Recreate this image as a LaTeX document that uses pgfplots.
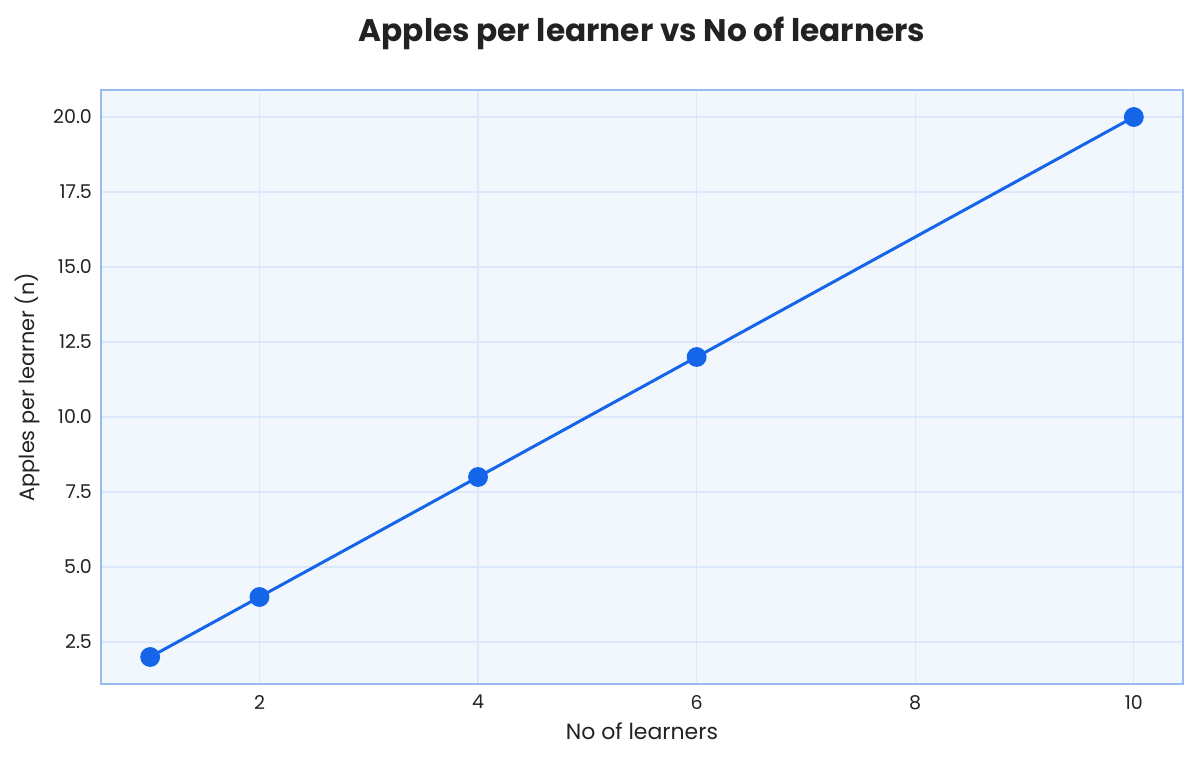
\documentclass[border=0pt]{standalone}
\usepackage{fontspec}
\setmainfont{Poppins}
\usepackage{pgfplots}
\pgfplotsset{compat=1.18}
\definecolor{linec}{RGB}{21,101,232}
\definecolor{framec}{RGB}{154,186,242}
\definecolor{bgc}{RGB}{242,247,254}
\definecolor{gridc}{RGB}{222,232,251}
\definecolor{textc}{RGB}{34,34,34}
\begin{document}
\begin{tikzpicture}
\path[use as bounding box] (-50.5pt,-38.5pt) rectangle (549.5pt,342pt);
\begin{axis}[
  at={(0,0)}, anchor=south west,
  width=541pt, height=297pt, scale only axis,
  xmin=0.55, xmax=10.45, ymin=1.1, ymax=20.9,
  xtick={2,4,6,8,10}, ytick={2.5,5,7.5,10,12.5,15,17.5,20},
  yticklabel style={/pgf/number format/fixed, /pgf/number format/fixed zerofill, /pgf/number format/precision=1, xshift=-1pt},
  /pgf/number format/assume math mode=true,
  major tick length=0pt,
  axis background/.style={fill=bgc},
  axis line style={framec, line width=1.2pt},
  grid=major, major grid style={gridc, line width=0.6pt},
  tick label style={font=\fontsize{9.5}{11}\selectfont, text=textc},
  xticklabel style={yshift=-2pt},
  label style={font=\fontsize{11}{13}\selectfont, text=textc},
  ylabel style={font=\fontsize{10.4}{12}\selectfont},
  xlabel={No of learners},
  ylabel={Apples per learner (n)},
  title={\textbf{Apples per learner vs No of learners}},
  title style={font=\fontsize{15.6}{18}\selectfont, text=textc, at={(0.5,1)}, anchor=base, yshift=18pt},
]
\addplot[linec, line width=1.5pt, mark=*, mark size=4.2pt, mark options={fill=linec, draw=linec}]
  coordinates {(1,2) (2,4) (4,8) (6,12) (10,20)};
\end{axis}
\end{tikzpicture}
\end{document}
